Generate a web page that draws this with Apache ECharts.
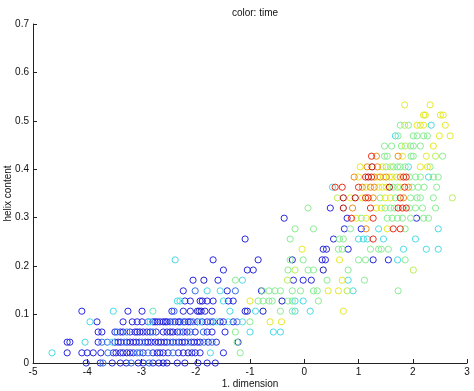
<!DOCTYPE html>
<html><head><meta charset="utf-8">
<script src="https://cdn.jsdelivr.net/npm/echarts@6/dist/echarts.min.js"></script>
<style>html,body{margin:0;padding:0;background:#fff}#c{width:474px;height:391px}</style>
</head><body><div id="c"></div>
<script>
// time codes (0 = earliest, 1 = latest), jet colormap
const D=0.05,B=0.12,L=0.22,C=0.36,Q=0.42,G=0.48,V=0.56,Y=0.63,O=0.74,R=0.85,K=0.95;

const xTicks = [-5,-4,-3,-2,-1,0,1,2,3];
const yTicks = [0,0.1,0.2,0.3,0.4,0.5,0.6,0.7];

// helix content levels
const helixLevels = [0,0.021,0.043,0.064,0.085,0.107,0.128,0.149,0.171,0.192,0.213,0.235,0.256,0.277,0.299,0.320,0.341,0.363,0.384,0.405,0.427,0.448,0.469,0.491,0.512,0.533];

// [1. dimension, time] per helix level
const lvl00=[[-4.02,B],[-3.76,B],[-3.71,L],[-3.54,B],[-3.39,B],[-3.28,B],[-3.19,L],[-3.06,B],[-2.97,B],[-2.86,L],[-2.79,B],[-2.68,B],[-2.60,B],[-2.53,B],[-2.34,B],[-2.20,B],[-1.96,B],[-1.79,B],[-1.64,B]];
const lvl01=[[-4.65,C],[-4.37,B],[-4.10,B],[-4.00,B],[-3.89,B],[-3.75,B],[-3.62,L],[-3.52,B],[-3.47,B],[-3.39,B],[-3.34,B],[-3.27,D],[-3.21,B],[-3.15,B],[-3.08,L],[-3.03,L],[-2.97,B],[-2.88,L],[-2.79,B],[-2.71,B],[-2.66,B],[-2.60,B],[-2.51,B],[-2.42,L],[-2.32,B],[-2.23,B],[-2.14,D],[-2.07,B],[-2.01,B],[-1.92,B],[-1.73,C],[-1.49,B],[-1.18,G]];
const lvl02=[[-4.37,B],[-4.32,B],[-4.04,C],[-3.80,B],[-3.73,L],[-3.63,L],[-3.54,C],[-3.49,B],[-3.43,B],[-3.38,B],[-3.32,L],[-3.27,B],[-3.21,B],[-3.15,B],[-3.10,B],[-3.04,B],[-2.99,L],[-2.93,B],[-2.88,B],[-2.82,B],[-2.75,B],[-2.69,D],[-2.64,B],[-2.58,B],[-2.53,B],[-2.47,L],[-2.42,B],[-2.36,L],[-2.31,B],[-2.25,B],[-2.20,B],[-2.14,L],[-2.08,B],[-2.03,B],[-1.97,B],[-1.92,B],[-1.85,L],[-1.77,B],[-1.70,L],[-1.62,B],[-1.24,G],[-1.22,B]];
const lvl03=[[-3.80,B],[-3.73,B],[-3.49,B],[-3.45,L],[-3.39,B],[-3.34,B],[-3.27,L],[-3.21,B],[-3.12,B],[-3.08,B],[-3.03,D],[-2.97,B],[-2.90,B],[-2.84,B],[-2.79,L],[-2.73,B],[-2.60,B],[-2.53,B],[-2.47,D],[-2.42,B],[-2.34,B],[-2.29,L],[-2.23,B],[-2.16,B],[-2.10,L],[-2.01,B],[-1.86,L],[-1.79,B],[-1.70,B],[-1.46,B],[-1.27,G],[-1.00,C],[-0.57,C],[-0.44,C]];
const lvl04=[[-3.95,C],[-3.82,B],[-3.34,B],[-3.17,B],[-3.08,B],[-2.99,B],[-2.88,L],[-2.84,C],[-2.79,B],[-2.75,B],[-2.71,B],[-2.66,B],[-2.60,D],[-2.56,B],[-2.53,B],[-2.47,B],[-2.42,L],[-2.38,B],[-2.32,B],[-2.29,B],[-2.23,L],[-2.20,B],[-2.14,B],[-2.10,B],[-2.05,L],[-1.97,B],[-1.92,C],[-1.88,B],[-1.79,B],[-1.73,L],[-1.68,B],[-1.61,C],[-1.55,B],[-1.49,B],[-1.40,C],[-1.31,B],[-1.24,L],[-1.14,C],[-1.00,G],[-0.63,Y],[-0.42,Y]];
const lvl05=[[-4.10,B],[-3.52,C],[-3.25,B],[-2.99,B],[-2.79,Q],[-2.44,B],[-2.40,L],[-2.23,B],[-2.10,B],[-1.97,B],[-1.94,D],[-1.90,D],[-1.83,B],[-1.70,B],[-1.37,C],[-1.09,B],[-1.05,D],[-0.90,C],[-0.76,D],[-0.44,G],[-0.22,G],[-0.17,C],[0.11,C],[0.72,Y]];
const lvl06=[[-2.34,C],[-2.29,C],[-2.20,B],[-2.10,B],[-1.92,B],[-1.88,D],[-1.79,B],[-1.68,B],[-1.49,C],[-1.40,B],[-1.31,B],[-1.00,Y],[-0.85,G],[-0.76,G],[-0.65,G],[-0.59,G],[-0.41,D],[-0.30,G],[-0.22,G],[-0.17,C],[-0.02,C],[0.26,G]];
const lvl07=[[-2.23,B],[-2.01,L],[-1.79,C],[-1.55,C],[-1.42,B],[-1.27,L],[-0.79,B],[-0.77,G],[-0.65,G],[-0.54,G],[-0.44,G],[-0.22,G],[-0.07,G],[0.17,G],[0.24,G],[0.44,Y],[0.63,Y],[0.79,V],[0.90,C],[1.73,G]];
const lvl08=[[-2.05,B],[-1.85,D],[-1.59,B],[-1.27,G],[-1.14,C],[-0.31,V],[-0.20,B],[-0.02,B],[0.13,B],[0.42,G],[0.70,Y],[0.81,C],[1.11,G]];
const lvl09=[[-1.49,B],[-1.05,B],[-0.94,B],[-0.30,G],[-0.17,V],[0.07,G],[0.17,G],[0.35,D],[0.81,G],[2.01,V]];
const lvl10=[[-2.38,C],[-1.68,B],[-0.85,B],[-0.26,G],[-0.22,B],[-0.02,G],[0.33,B],[0.39,B],[0.65,Y],[1.00,G],[1.13,G],[1.27,B],[1.55,B],[1.72,C],[1.86,G]];
const lvl11=[[-0.04,Y],[0.35,B],[0.41,B],[0.63,G],[0.70,G],[0.81,B],[1.22,G],[1.37,G],[1.42,G],[1.55,G],[1.83,C],[2.25,C],[2.47,C]];
const lvl12=[[-1.09,B],[-0.26,G],[0.54,B],[0.65,G],[0.72,G],[1.00,C],[1.09,C],[1.16,C],[1.27,R],[1.46,C],[2.05,C]];
const lvl13=[[-0.17,G],[0.17,G],[0.74,B],[0.85,G],[1.05,B],[1.14,O],[1.37,C],[1.53,Y],[1.64,R],[1.77,R],[1.86,G],[2.47,C]];
const lvl14=[[-0.37,B],[0.79,B],[0.87,R],[0.96,Y],[1.05,G],[1.14,Y],[1.27,R],[1.53,G],[1.62,G],[1.72,G],[1.81,G],[1.96,G],[2.07,B],[2.20,G],[2.29,G]];
const lvl15=[[0.07,G],[0.48,B],[0.72,K],[0.89,O],[1.22,R],[1.33,Y],[1.42,Y],[1.49,G],[1.59,G],[1.66,G],[1.73,R],[1.81,R],[1.88,R],[1.94,G],[2.05,G],[2.18,G],[2.42,G]];
const lvl16=[[0.61,V],[0.72,K],[0.85,Y],[0.94,K],[1.07,Y],[1.13,R],[1.18,R],[1.27,O],[1.40,G],[1.49,Y],[1.59,Y],[1.68,G],[1.77,R],[1.83,O],[1.96,G],[2.08,G],[2.14,G],[2.38,G],[2.73,V]];
const lvl17=[[0.52,C],[0.57,R],[0.70,R],[1.00,R],[1.07,O],[1.14,Y],[1.22,O],[1.29,O],[1.37,Y],[1.44,Y],[1.51,Y],[1.57,K],[1.64,G],[1.72,G],[1.77,Y],[1.85,R],[1.92,O],[1.99,G],[2.10,G],[2.21,G],[2.44,G]];
const lvl18=[[0.92,O],[1.00,Y],[1.13,R],[1.18,K],[1.24,R],[1.29,O],[1.35,Y],[1.40,O],[1.46,Y],[1.51,O],[1.57,Y],[1.62,Y],[1.70,V],[1.77,O],[1.83,R],[1.88,R],[1.94,G],[2.05,G],[2.14,G],[2.29,C],[2.38,G],[2.47,G]];
const lvl19=[[1.03,Y],[1.16,O],[1.25,K],[1.35,O],[1.44,Y],[1.51,G],[1.59,V],[1.64,G],[1.72,G],[1.77,G],[1.86,G],[1.92,C],[2.14,Y],[2.27,Y],[2.32,G]];
const lvl20=[[1.24,R],[1.33,O],[1.48,G],[1.53,G],[1.73,O],[1.81,Y],[1.97,G],[2.01,G],[2.25,Y],[2.42,V],[2.55,G]];
const lvl21=[[1.48,G],[1.61,G],[1.79,G],[1.86,V],[1.96,G],[2.01,G],[2.14,G],[2.38,Y]];
const lvl22=[[1.68,C],[1.73,G],[2.01,G],[2.08,G],[2.20,G],[2.27,G],[2.49,Y],[2.69,Y]];
const lvl23=[[1.77,G],[1.85,V],[1.92,G],[2.08,Y],[2.14,Y],[2.20,Y],[2.34,C],[2.60,Y]];
const lvl24=[[2.20,Y],[2.23,Y],[2.51,Y],[2.56,Y]];
const lvl25=[[1.85,Y],[2.32,Y]];

const levelPoints=[lvl00,lvl01,lvl02,lvl03,lvl04,lvl05,lvl06,lvl07,lvl08,lvl09,lvl10,lvl11,lvl12,lvl13,lvl14,lvl15,lvl16,lvl17,lvl18,lvl19,lvl20,lvl21,lvl22,lvl23,lvl24,lvl25];

// jet colormap, slightly softened like the anti-aliased reference
const jet=['#1a1aa0','#2a2ae6','#3a8ae8','#4fe6e6','#96ee86','#e6ee2a','#f08a1a','#e81a1a','#8a0a0a'];

const data=[];
levelPoints.forEach((row,i)=>row.forEach(p=>data.push([p[0],helixLevels[i],p[1]])));
data.sort((a,b)=>a[2]-b[2]);

const font='"Liberation Sans", Arial, Helvetica, sans-serif';
const chart=echarts.init(document.getElementById('c'),null,{renderer:'canvas'});
chart.setOption({
  animation:false,
  backgroundColor:'#fff',
  title:{text:'color: time',left:250,textAlign:'center',top:3,textStyle:{fontFamily:font,fontSize:10,fontWeight:'normal',color:'#111'}},
  grid:{left:33,right:7,top:24,bottom:28,containLabel:false,outerBoundsMode:'none'},
  visualMap:{show:false,dimension:2,min:0,max:1,seriesIndex:0,inRange:{color:jet}},
  xAxis:{type:'value',min:xTicks[0],max:xTicks[xTicks.length-1],interval:1,
    name:'1. dimension',nameLocation:'middle',nameGap:16,nameMoveOverlap:false,nameTextStyle:{fontFamily:font,fontSize:10,color:'#111'},
    axisLine:{onZero:false,lineStyle:{color:'#222',width:1}},
    axisTick:{inside:true,length:4,lineStyle:{color:'#222'}},
    axisLabel:{fontFamily:font,fontSize:10,color:'#111',margin:4},
    splitLine:{show:false}},
  yAxis:{type:'value',min:yTicks[0],max:yTicks[yTicks.length-1],interval:0.1,
    name:'helix content',nameLocation:'middle',nameGap:20,nameRotate:90,nameMoveOverlap:false,nameTextStyle:{fontFamily:font,fontSize:10,color:'#111'},
    axisLine:{show:true,onZero:false,lineStyle:{color:'#222',width:1}},
    axisTick:{show:true,inside:true,length:4,lineStyle:{color:'#222'}},
    axisLabel:{fontFamily:font,fontSize:10,color:'#111',margin:4},
    splitLine:{show:false}},
  series:[{
    type:'custom',
    clip:false,
    encode:{x:0,y:1},
    data:data,
    renderItem:function(params,api){
      const p=api.coord([api.value(0),api.value(1)]);
      return {type:'circle',shape:{cx:p[0],cy:p[1],r:3.1},style:{fill:'none',stroke:api.visual('color'),lineWidth:1}};
    }
  }]
});
</script></body></html>
